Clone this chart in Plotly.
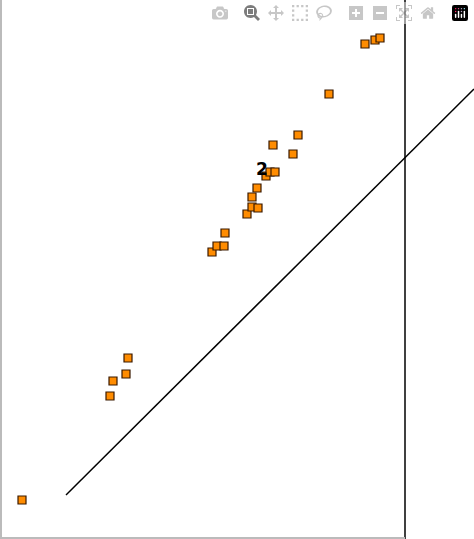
import plotly.graph_objects as go

px_x = [22,110,113,126,128,212,217,224,225,247,252,258,252,257,266,270,275,273,293,298,329,365,375,380]
px_y = [500,396,381,374,358,252,246,246,233,214,207,208,197,188,176,172,172,145,154,135,94,44,40,38]
line_x = [66, 474]
line_y = [495, 89]
label_text = ["2"]
label_x = [262]
label_y = [171]

fig = go.Figure()
fig.add_trace(go.Scatter(x=line_x, y=line_y, mode="lines", line=dict(color="black", width=1.5)))
fig.add_trace(go.Scatter(x=px_x, y=px_y, mode="markers",
    marker=dict(symbol="square", size=8, color="#ff8c00", line=dict(color="#3a1a00", width=1.2))))
fig.add_trace(go.Scatter(x=label_x, y=label_y, mode="text", text=label_text,
    textfont=dict(family="DejaVu Sans", size=17, color="black"), texttemplate="<b>%{text}</b>"))
fig.add_shape(type="line", x0=405, x1=405, y0=0, y1=539, line=dict(color="black", width=1.5))
fig.add_shape(type="line", x0=1, x1=1, y0=0, y1=539, line=dict(color="#bbbbbb", width=2))
fig.add_shape(type="line", x0=0, x1=405, y0=538, y1=538, line=dict(color="#bbbbbb", width=2))
fig.update_layout(width=474, height=539, margin=dict(l=0, r=0, t=0, b=0),
    plot_bgcolor="white", paper_bgcolor="white", showlegend=False,
    xaxis=dict(range=[0, 474], visible=False),
    yaxis=dict(range=[539, 0], visible=False))
fig.write_html("out.html", post_script="document.body.style.margin='0';document.body.style.overflow='hidden';")
